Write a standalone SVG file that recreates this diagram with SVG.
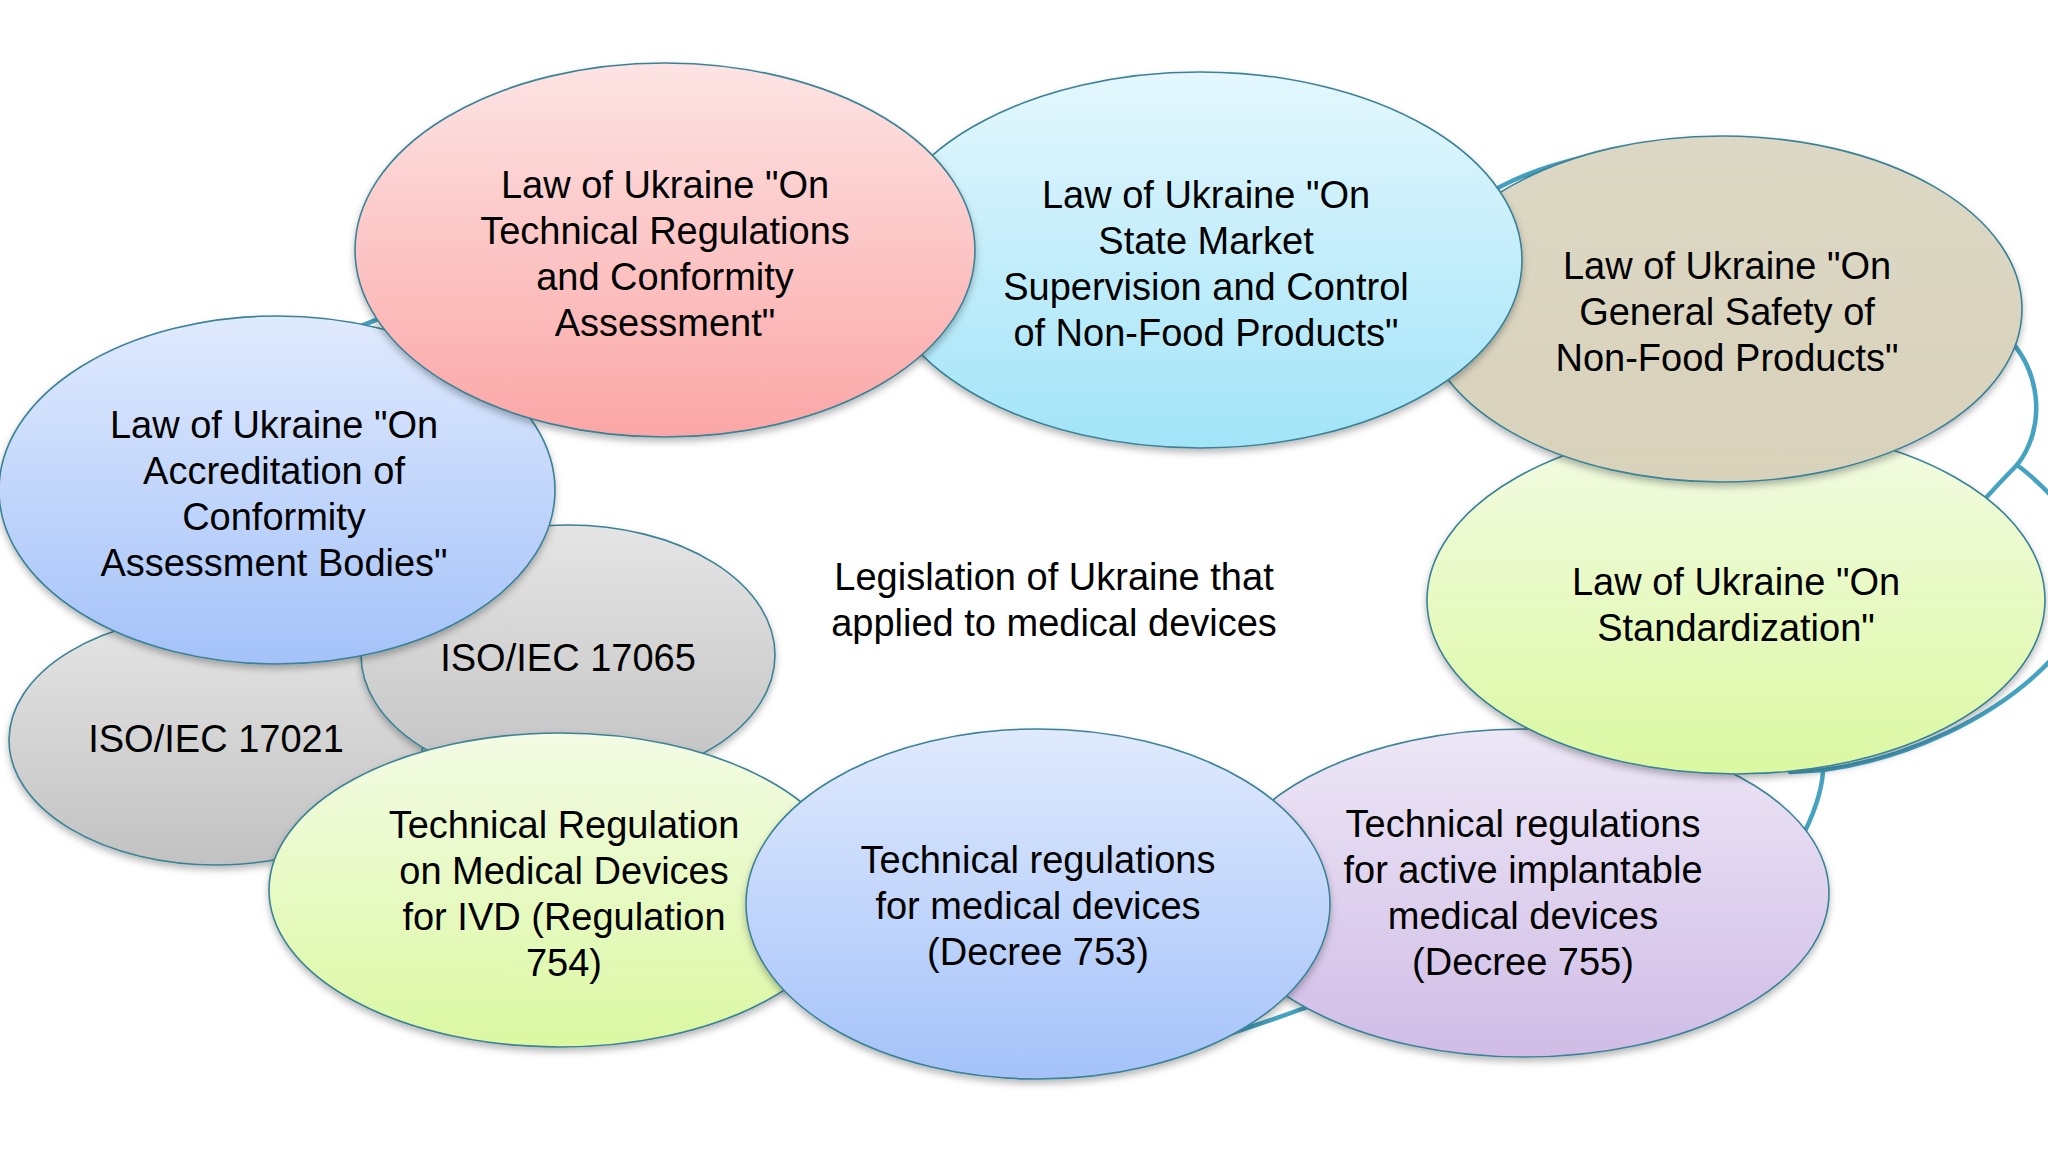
<svg xmlns="http://www.w3.org/2000/svg" width="2048" height="1152" viewBox="0 0 2048 1152">
  <defs>
    <linearGradient id="gRed" x1="0" y1="0" x2="0" y2="1"><stop offset="0" stop-color="#fde4e4"/><stop offset="1" stop-color="#fba6a6"/></linearGradient>
    <linearGradient id="gCyan" x1="0" y1="0" x2="0" y2="1"><stop offset="0" stop-color="#e4f7fd"/><stop offset="1" stop-color="#a2e4f8"/></linearGradient>
    <linearGradient id="gTan" x1="0" y1="0" x2="0" y2="1"><stop offset="0" stop-color="#ddd8c5"/><stop offset="1" stop-color="#d8d2bb"/></linearGradient>
    <linearGradient id="gLime" x1="0" y1="0" x2="0" y2="1"><stop offset="0" stop-color="#f3fbe4"/><stop offset="1" stop-color="#dbf8a2"/></linearGradient>
    <linearGradient id="gPurple" x1="0" y1="0" x2="0" y2="1"><stop offset="0" stop-color="#ede7f6"/><stop offset="1" stop-color="#d0bce6"/></linearGradient>
    <linearGradient id="gBlue" x1="0" y1="0" x2="0" y2="1"><stop offset="0" stop-color="#e0eafd"/><stop offset="1" stop-color="#a4c2f9"/></linearGradient>
    <linearGradient id="gGrey" x1="0" y1="0" x2="0" y2="1"><stop offset="0" stop-color="#e5e5e5"/><stop offset="1" stop-color="#c2c2c2"/></linearGradient>
    <filter id="shadow" x="-10%" y="-10%" width="120%" height="125%">
      <feDropShadow dx="0" dy="4" stdDeviation="3.5" flood-color="#000" flood-opacity="0.28"/>
    </filter>
  </defs>
  <style>
    .node { stroke: #3a8296; stroke-width: 1.6; filter: url(#shadow); }
    .lbl { font-family: "Liberation Sans", Arial, sans-serif; font-size: 38px; fill: #000; text-anchor: middle; }
    .conn { fill: none; stroke: #45a2c1; stroke-width: 4.5; stroke-linecap: round; }
  </style>
  <rect width="2048" height="1152" fill="#ffffff"/>

  <g id="connectors">
    <path class="conn" d="M 340 333 Q 378 322 415 300"/>
    <path class="conn" d="M 1478 200 Q 1540 158 1650 147"/>
    <path class="conn" d="M 2000 330 C 2045 370 2045 430 2017 465"/>
    <path class="conn" d="M 2017 465 Q 2000 482 1975 510"/>
    <path class="conn" d="M 2017 465 Q 2035 478 2060 505"/>
    <path class="conn" d="M 2060 650 C 2000 720 1900 760 1823 770 L 1790 772"/>
    <path class="conn" d="M 1823 770 Q 1822 800 1798 845"/>
    <path class="conn" d="M 1180 1050 Q 1260 1025 1340 995"/>
  </g>

  <g id="node-iso17021">
    <ellipse class="node" cx="216" cy="740" rx="207" ry="125" fill="url(#gGrey)"/>
    <text class="lbl" x="216" y="752">ISO/IEC 17021</text>
  </g>
  <g id="node-iso17065">
    <ellipse class="node" cx="568" cy="655" rx="207" ry="130" fill="url(#gGrey)"/>
    <text class="lbl" x="568" y="671">ISO/IEC 17065</text>
  </g>
  <g id="node-accreditation">
    <ellipse class="node" cx="277" cy="490" rx="278" ry="174" fill="url(#gBlue)"/>
    <text class="lbl" x="274" y="438">Law of Ukraine "On</text>
    <text class="lbl" x="274" y="484">Accreditation of</text>
    <text class="lbl" x="274" y="530">Conformity</text>
    <text class="lbl" x="274" y="576">Assessment Bodies"</text>
  </g>
  <g id="node-decree754">
    <ellipse class="node" cx="560" cy="890" rx="291" ry="157" fill="url(#gLime)"/>
    <text class="lbl" x="564" y="838">Technical Regulation</text>
    <text class="lbl" x="564" y="884">on Medical Devices</text>
    <text class="lbl" x="564" y="930">for IVD (Regulation</text>
    <text class="lbl" x="564" y="976">754)</text>
  </g>
  <g id="node-decree755">
    <ellipse class="node" cx="1524" cy="893" rx="305" ry="164" fill="url(#gPurple)"/>
    <text class="lbl" x="1523" y="837">Technical regulations</text>
    <text class="lbl" x="1523" y="883">for active implantable</text>
    <text class="lbl" x="1523" y="929">medical devices</text>
    <text class="lbl" x="1523" y="975">(Decree 755)</text>
  </g>
  <g id="node-decree753">
    <ellipse class="node" cx="1038" cy="904" rx="292" ry="175" fill="url(#gBlue)"/>
    <text class="lbl" x="1038" y="873">Technical regulations</text>
    <text class="lbl" x="1038" y="919">for medical devices</text>
    <text class="lbl" x="1038" y="965">(Decree 753)</text>
  </g>
  <g id="node-standardization">
    <ellipse class="node" cx="1736" cy="600" rx="309" ry="174" fill="url(#gLime)"/>
    <text class="lbl" x="1736" y="595">Law of Ukraine "On</text>
    <text class="lbl" x="1736" y="641">Standardization"</text>
  </g>
  <g id="node-general-safety">
    <ellipse class="node" cx="1722" cy="309" rx="300" ry="173" fill="url(#gTan)"/>
    <text class="lbl" x="1727" y="279">Law of Ukraine "On</text>
    <text class="lbl" x="1727" y="325">General Safety of</text>
    <text class="lbl" x="1727" y="371">Non-Food Products"</text>
  </g>
  <g id="node-market-supervision">
    <ellipse class="node" cx="1200" cy="260" rx="322" ry="188" fill="url(#gCyan)"/>
    <text class="lbl" x="1206" y="208">Law of Ukraine "On</text>
    <text class="lbl" x="1206" y="254">State Market</text>
    <text class="lbl" x="1206" y="300">Supervision and Control</text>
    <text class="lbl" x="1206" y="346">of Non-Food Products"</text>
  </g>
  <g id="node-technical-regulations">
    <ellipse class="node" cx="665" cy="250" rx="310" ry="187" fill="url(#gRed)"/>
    <text class="lbl" x="665" y="198">Law of Ukraine "On</text>
    <text class="lbl" x="665" y="244">Technical Regulations</text>
    <text class="lbl" x="665" y="290">and Conformity</text>
    <text class="lbl" x="665" y="336">Assessment"</text>
  </g>

  <g id="center-label">
    <text class="lbl" x="1054" y="590">Legislation of Ukraine that</text>
    <text class="lbl" x="1054" y="636">applied to medical devices</text>
  </g>
</svg>
